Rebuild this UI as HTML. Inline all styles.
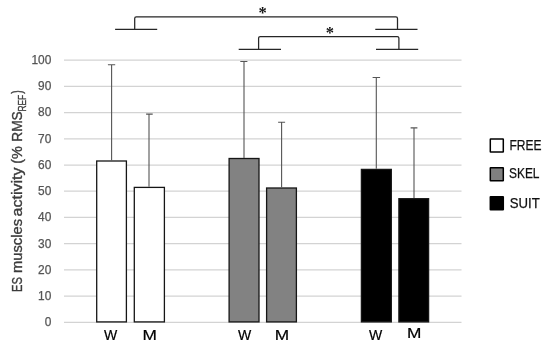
<!DOCTYPE html>
<html><head><meta charset="utf-8"><title>ES muscles activity</title>
<style>
html,body{margin:0;padding:0;background:#fff;}
body{width:550px;height:347px;overflow:hidden;}
svg{display:block;font-family:"Liberation Sans",sans-serif;}
.tk text{font-size:11.9px;fill:#555;text-anchor:end;stroke:#555;stroke-width:0.25px;}
.gr line{stroke:#d3d3d3;stroke-width:1.25;}
.xl text{font-size:14px;fill:#000;text-anchor:middle;stroke:#000;stroke-width:0.2px;}
.lg text{font-size:14px;fill:#111;stroke:#111;stroke-width:0.25px;}
.yt text{font-size:14.5px;fill:#3c3c3c;stroke:#3c3c3c;stroke-width:0.35px;}
.br path{stroke:#262626;stroke-width:1.25;fill:none;}
.as text{font-family:"Liberation Serif",serif;font-weight:bold;font-size:16.5px;fill:#111;text-anchor:middle;}
</style></head><body>
<svg width="550" height="347" viewBox="0 0 550 347">
<rect width="550" height="347" fill="#fff"/>
<g class="gr"><line x1="64" x2="461.5" y1="322.3" y2="322.3"/><line x1="64" x2="461.5" y1="296.1" y2="296.1"/><line x1="64" x2="461.5" y1="269.9" y2="269.9"/><line x1="64" x2="461.5" y1="243.6" y2="243.6"/><line x1="64" x2="461.5" y1="217.4" y2="217.4"/><line x1="64" x2="461.5" y1="191.2" y2="191.2"/><line x1="64" x2="461.5" y1="165.0" y2="165.0"/><line x1="64" x2="461.5" y1="138.8" y2="138.8"/><line x1="64" x2="461.5" y1="112.5" y2="112.5"/><line x1="64" x2="461.5" y1="86.3" y2="86.3"/><line x1="64" x2="461.5" y1="60.1" y2="60.1"/></g>
<g class="tk"><text x="51.3" y="326.2">0</text><text x="51.3" y="300.0">10</text><text x="51.3" y="273.8">20</text><text x="51.3" y="247.5">30</text><text x="51.3" y="221.3">40</text><text x="51.3" y="195.1">50</text><text x="51.3" y="168.9">60</text><text x="51.3" y="142.7">70</text><text x="51.3" y="116.4">80</text><text x="51.3" y="90.2">90</text><text x="51.3" y="64.0">100</text></g>
<g class="bars"><rect x="96.7" y="161.0" width="29.7" height="160.9" fill="#fff" stroke="#161616" stroke-width="1.3"/><path d="M111.6 160.4V64.7M107.9 64.7H115.2" stroke="#555" stroke-width="1.1" fill="none"/><rect x="134.3" y="187.4" width="30.1" height="134.5" fill="#fff" stroke="#161616" stroke-width="1.3"/><path d="M149.0 186.8V114.1M146.1 114.1H152.7" stroke="#555" stroke-width="1.1" fill="none"/><rect x="229.1" y="158.5" width="29.9" height="163.4" fill="#828282" stroke="#161616" stroke-width="1.3"/><path d="M244.0 157.9V61.5M240.3 61.5H247.4" stroke="#555" stroke-width="1.1" fill="none"/><rect x="266.6" y="188.0" width="29.8" height="133.9" fill="#828282" stroke="#161616" stroke-width="1.3"/><path d="M281.6 187.4V122.2M278.1 122.2H285.1" stroke="#555" stroke-width="1.1" fill="none"/><rect x="361.4" y="169.4" width="29.9" height="152.5" fill="#000" stroke="#161616" stroke-width="1.3"/><path d="M376.3 168.8V77.5M372.6 77.5H380.1" stroke="#555" stroke-width="1.1" fill="none"/><rect x="398.9" y="198.7" width="29.7" height="123.2" fill="#000" stroke="#161616" stroke-width="1.3"/><path d="M414.0 198.1V127.9M410.6 127.9H417.4" stroke="#555" stroke-width="1.1" fill="none"/></g>
<g class="xl">
<text x="110.7" y="340">W</text><text x="149.75" y="340" textLength="14.4" lengthAdjust="spacingAndGlyphs">M</text>
<text x="244.65" y="339.8">W</text><text x="282" y="339.8" textLength="14.4" lengthAdjust="spacingAndGlyphs">M</text>
<text x="375.7" y="339.8">W</text><text x="414.1" y="338.3" textLength="14.4" lengthAdjust="spacingAndGlyphs">M</text>
</g>
<g class="br">
<path d="M115.1 29.45H157.2M134.7 29.45V18.55Q134.7 16.95 136.3 16.95H395.9Q397.5 16.95 397.5 18.55V29.45M375.3 29.45H417.5"/>
<path d="M238.7 49.45H281M258.6 49.45V38.1Q258.6 36.5 260.2 36.5H397.3Q398.9 36.5 398.9 38.1V49.45M376 49.45H418.2"/>
</g>
<g class="as"><text x="262.7" y="17.9">*</text><text x="329.9" y="37.7">*</text></g>
<g class="lg">
<rect x="490.3" y="139.1" width="13" height="13" rx="0.3" fill="#fff" stroke="#000" stroke-width="1.5"/>
<rect x="490.3" y="167.7" width="13" height="13" rx="0.3" fill="#808080" stroke="#000" stroke-width="1.5"/>
<rect x="490.3" y="196.7" width="13" height="13" rx="0.3" fill="#000" stroke="#000" stroke-width="1.5"/>
<text x="509.5" y="150" textLength="32" lengthAdjust="spacingAndGlyphs">FREE</text>
<text x="509" y="178.1" textLength="30.5" lengthAdjust="spacingAndGlyphs">SKEL</text>
<text x="509.8" y="208" textLength="30" lengthAdjust="spacingAndGlyphs">SUIT</text>
</g>
<g class="yt" transform="translate(22,0) rotate(-90)">
<text x="-291" y="0"><tspan x="-291.92" textLength="14.92" lengthAdjust="spacingAndGlyphs">ES</tspan> <tspan x="-272.97" textLength="53.99" lengthAdjust="spacingAndGlyphs">muscles</tspan> <tspan x="-216.47" textLength="49.01" lengthAdjust="spacingAndGlyphs">activity</tspan> <tspan x="-163.69" textLength="17.60" lengthAdjust="spacingAndGlyphs">(%</tspan> <tspan x="-141.72" textLength="30.44" lengthAdjust="spacingAndGlyphs">RMS</tspan><tspan x="-111.59" y="3.6" textLength="16.72" lengthAdjust="spacingAndGlyphs" style="font-size:10.3px">REF</tspan><tspan x="-93.85" y="0" textLength="3.51" lengthAdjust="spacingAndGlyphs">)</tspan></text>
</g>
</svg>
</body></html>
